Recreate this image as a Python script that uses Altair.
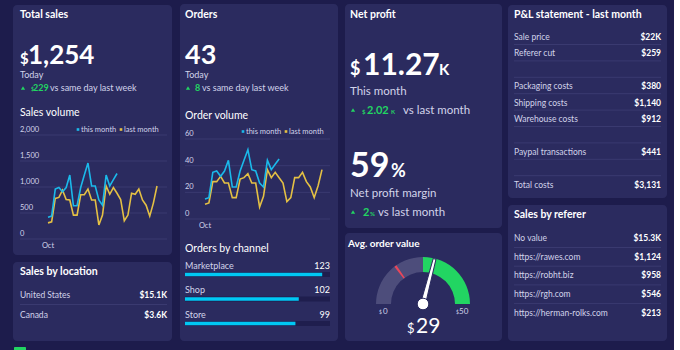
import math
import altair as alt
import pandas as pd

# ---------------- data ----------------
days = list(range(1, 32))
month_label = "Oct"
series_names = ["this month", "last month"]

sales_last_month = [310, 330, 780, 800, 940, 760, 750, 460, 460, 850, 850, 960, 750, 750, 270, 460,
                    1020, 860, 990, 880, 760, 350, 460, 880, 860, 960, 750, 650, 440, 690, 1020]
sales_this_month = [420, 440, 960, 990, 910, 990, 1230, 640, 640, 990, 1230, 1460, 1020, 1020, 750,
                    650, 1230, 1020, 1140, 1260]
sales_ticks = [0, 500, 1000, 1500, 2000]
sales_tick_labels = ["0", "500", "1,000", "1,500", "2,000"]

orders_last_month = [11, 12, 28, 28, 32, 27, 27, 16, 16, 30, 31, 34, 27, 27, 9, 17,
                     37, 31, 35, 31, 27, 13, 16, 31, 31, 35, 28, 24, 16, 25, 37]
orders_this_month = [15, 16, 35, 36, 32, 36, 44, 24, 24, 36, 44, 52, 37, 36, 27, 24, 44, 37, 41, 45]
order_ticks = [0, 20, 40, 60]
order_tick_labels = ["0", "20", "40", "60"]

channels = ["Marketplace", "Shop", "Store"]
channel_orders = [123, 102, 99]

locations = ["United States", "Canada"]
location_sales = ["$15.1K", "$3.6K"]

pl_items = ["Sale price", "Referer cut", "", "Packaging costs", "Shipping costs",
            "Warehouse costs", "", "Paypal transactions", "", "Total costs"]
pl_values = ["$22K", "$259", "", "$380", "$1,140", "$912", "", "$441", "", "$3,131"]

referers = ["No value", "https://rawes.com", "https://robht.biz", "https://rgh.com",
            "https://herman-rolks.com"]
referer_sales = ["$15.3K", "$1,124", "$958", "$546", "$213"]

avg_order_value = 29
gauge_min, gauge_max = 0, 50
gauge_target = 15
gauge_good_from = 25

total_sales_today = "1,254"
total_sales_delta = "229"
orders_today = "43"
orders_delta = "8"
net_profit = "11.27"
net_profit_delta = "2.02"
net_margin = "59"
net_margin_delta = "2"

# ---------------- style ----------------
FONT = "Lato"
BG = "#1d1c4c"
PANEL = "#2b2b5f"
GRID = "#3a3a70"
WHITE = "#ffffff"
LIGHT = "#d2d3ea"
GREEN = "#22d562"
CYAN = "#1bb9ea"
YELLOW = "#e4c044"
BAR = "#00c8f4"
GAUGE_GREY = "#4d4d7b"
RED = "#e8465a"

layers = []


def one():
    return pd.DataFrame({"k": [0]})


def rect(x, y, x2, y2, color, r=4):
    layers.append(alt.Chart(one()).mark_rect(color=color, cornerRadius=r).encode(
        x=alt.value(x), x2=alt.value(x2), y=alt.value(y), y2=alt.value(y2)))


def text(s, x, y, size=9, color=WHITE, weight="normal", align="left"):
    layers.append(alt.Chart(pd.DataFrame({"t": [s]})).mark_text(
        align=align, baseline="alphabetic", font=FONT, fontSize=size,
        fontWeight=weight, color=color).encode(
        x=alt.value(x), y=alt.value(y), text="t:N"))


def tri(x, y):
    layers.append(alt.Chart(one()).mark_point(
        shape="triangle-up", filled=True, color=GREEN, size=18, opacity=1).encode(
        x=alt.value(x), y=alt.value(y)))


def lin(domain, rng):
    return alt.Scale(domain=domain, range=rng, nice=False, zero=False)


# ---------------- panels ----------------
rect(13, 5, 172, 255, PANEL)
rect(13, 262, 172, 341, PANEL)
rect(180, 4, 338, 341, PANEL)
rect(345, 4, 502, 228, PANEL)
rect(345, 233, 502, 341, PANEL)
rect(508, 5, 667, 198, PANEL)
rect(508, 205, 667, 341, PANEL)
rect(674, 0, 680, 350, "#ffffff", 0)
rect(14, 347, 26, 352, GREEN, 1)


# ---------------- line charts ----------------
def line_chart(x0, x1, lx0, lx1, y0, y1, ydom, ticks, tick_labels, last, this, oct_y, leg_x, leg_y):
    xs = lin([1, 31], [lx0, lx1])
    ys = lin(ydom, [y0, y1])
    gdf = pd.DataFrame({"v": ticks, "lab": tick_labels})
    layers.append(alt.Chart(gdf).mark_rule(color=GRID, strokeWidth=1).encode(
        y=alt.Y("v:Q", scale=ys, axis=None), x=alt.value(x0), x2=alt.value(x1)))
    layers.append(alt.Chart(gdf).mark_text(
        align="left", baseline="alphabetic", dy=-3, font=FONT, fontSize=7.5, color=LIGHT).encode(
        y=alt.Y("v:Q", scale=ys, axis=None), x=alt.value(x0), text="lab:N"))
    for series, color in [(last, YELLOW), (this, CYAN)]:
        df = pd.DataFrame({"day": days[:len(series)], "v": series})
        layers.append(alt.Chart(df).mark_line(color=color, strokeWidth=1.6).encode(
            x=alt.X("day:Q", scale=xs, axis=None),
            y=alt.Y("v:Q", scale=ys, axis=None)))
    odf = pd.DataFrame({"day": [days[0]], "t": [month_label]})
    layers.append(alt.Chart(odf).mark_text(
        align="center", baseline="alphabetic", font=FONT, fontSize=7.5, color=LIGHT).encode(
        x=alt.X("day:Q", scale=xs, axis=None), y=alt.value(oct_y), text="t:N"))
    # legend
    for name, color, dx in [(series_names[0], CYAN, 0), (series_names[1], YELLOW, 43)]:
        layers.append(alt.Chart(one()).mark_square(color=color, size=7, opacity=1).encode(
            x=alt.value(leg_x + dx), y=alt.value(leg_y - 2.5)))
        text(name, leg_x + dx + 3, leg_y, 7.5, LIGHT)


line_chart(20, 167, 48, 157, 239, 135, [0, 2000], sales_ticks, sales_tick_labels,
           sales_last_month, sales_this_month, 248, 78, 132)
line_chart(185, 330, 205, 322, 219, 139, [0, 60], order_ticks, order_tick_labels,
           orders_last_month, orders_this_month, 228, 243, 134)

# ---------------- KPI texts ----------------
text("Total sales", 20, 18, 10.5, WHITE, "bold")
text("$", 20, 64, 15, WHITE, "bold")
text(total_sales_today, 28, 64, 26, WHITE, "bold")
text("Today", 20, 78, 9, LIGHT)
tri(23, 88)
text("$", 31, 91, 5, GREEN, "bold")
text(total_sales_delta, 33, 91, 9, GREEN, "bold")
text("vs same day last week", 50, 91, 9, LIGHT)
text("Sales volume", 20, 116, 10.5, WHITE)

text("Orders", 185, 18, 10.5, WHITE, "bold")
text(orders_today, 185, 64, 27, WHITE, "bold")
text("Today", 185, 78, 9, LIGHT)
tri(188, 88)
text(orders_delta, 195, 91, 9, GREEN, "bold")
text("vs same day last week", 202, 91, 9, LIGHT)
text("Order volume", 185, 119, 10.5, WHITE)

text("Net profit", 350, 18, 10.5, WHITE, "bold")
text("$", 350, 75, 18, WHITE, "bold")
text(net_profit, 363, 75, 30, WHITE, "bold")
text("K", 439, 75, 15, WHITE, "bold")
text("This month", 350, 95, 11.5, LIGHT)
tri(353, 110)
text("$", 362, 114, 6, GREEN, "bold")
text(net_profit_delta, 367, 114, 11, GREEN, "bold")
text("K", 391, 114, 6, GREEN, "bold")
text("vs last month", 403, 114, 11.5, LIGHT)
text(net_margin, 350, 177, 34, WHITE, "bold")
text("%", 391, 177, 18, WHITE, "bold")
text("Net profit margin", 350, 197, 11.5, LIGHT)
tri(353, 212)
text(net_margin_delta, 363, 216, 11, GREEN, "bold")
text("%", 370, 216, 6, GREEN, "bold")
text("vs last month", 378, 216, 11.5, LIGHT)

# ---------------- orders by channel ----------------
text("Orders by channel", 185, 252, 10.5, WHITE)
cdf = pd.DataFrame({"ch": channels, "n": channel_orders, "row": list(range(len(channels))),
                    "zero": [0] * len(channels)})
bx = lin([0, 130], [185, 330])
by = lin([0, 2], [274.5, 323.5])
layers.append(alt.Chart(cdf).mark_rule(color="#1f1e4e", strokeWidth=5).encode(
    y=alt.Y("row:Q", scale=by, axis=None), x=alt.value(185), x2=alt.value(330)))
layers.append(alt.Chart(cdf).mark_rule(color=BAR, strokeWidth=3.5).encode(
    y=alt.Y("row:Q", scale=by, axis=None),
    x=alt.X("zero:Q", scale=bx, axis=None), x2="n:Q"))
layers.append(alt.Chart(cdf).mark_text(
    align="left", baseline="alphabetic", dy=-6, font=FONT, fontSize=9, color=LIGHT).encode(
    y=alt.Y("row:Q", scale=by, axis=None), x=alt.value(185), text="ch:N"))
layers.append(alt.Chart(cdf).mark_text(
    align="right", baseline="alphabetic", dy=-6, font=FONT, fontSize=9, color=WHITE).encode(
    y=alt.Y("row:Q", scale=by, axis=None), x=alt.value(330), text="n:Q"))


# ---------------- tables ----------------
def table(items, values, x0, x1, y_first, step, line_off, lines):
    n = len(items)
    df = pd.DataFrame({"item": items, "val": values, "row": list(range(n))})
    ys = lin([0, n - 1], [y_first, y_first + step * (n - 1)])
    ls = lin([0, n - 1], [y_first + line_off, y_first + line_off + step * (n - 1)])
    ldf = df.iloc[:lines]
    layers.append(alt.Chart(ldf).mark_rule(color=GRID, strokeWidth=1).encode(
        y=alt.Y("row:Q", scale=ls, axis=None), x=alt.value(x0), x2=alt.value(x1)))
    layers.append(alt.Chart(df).mark_text(
        align="left", baseline="alphabetic", font=FONT, fontSize=8.5, color=LIGHT).encode(
        y=alt.Y("row:Q", scale=ys, axis=None), x=alt.value(x0), text="item:N"))
    layers.append(alt.Chart(df).mark_text(
        align="right", baseline="alphabetic", font=FONT, fontSize=8.5, color=WHITE,
        fontWeight="bold").encode(
        y=alt.Y("row:Q", scale=ys, axis=None), x=alt.value(x1), text="val:N"))


text("Sales by location", 20, 275, 10.5, WHITE, "bold")
table(locations, location_sales, 20, 167, 298, 20, 6.5, 1)

text("P&L statement - last month", 514, 18, 10.5, WHITE, "bold")
table(pl_items, pl_values, 514, 661, 40, 16.4, 4.5, 9)

text("Sales by referer", 514, 218, 10.5, WHITE, "bold")
table(referers, referer_sales, 514, 661, 241, 18.7, 6.5, 4)

# ---------------- gauge ----------------
text("Avg. order value", 348, 247, 10, WHITE, "bold")
GX, GY = 423, 304
ts = alt.Scale(domain=[gauge_min, gauge_max], range=[-math.pi / 2, math.pi / 2])
gdf = pd.DataFrame({
    "a": [gauge_min, gauge_good_from, gauge_target - 0.4],
    "b": [gauge_good_from, gauge_max, gauge_target + 0.4],
    "part": ["low", "good", "target"],
})
for i, color in enumerate([GAUGE_GREY, GREEN, RED]):
    layers.append(alt.Chart(gdf.iloc[[i]]).mark_arc(
        outerRadius=47, innerRadius=32, color=color).encode(
        theta=alt.Theta("a:Q", scale=ts, stack=None), theta2="b:Q",
        x=alt.value(GX), y=alt.value(GY)))

NEEDLE = "M -0.055 0.03 L 0.055 0.03 L 0.03 -1 L -0.03 -1 Z"
ndf = pd.DataFrame({"v": [avg_order_value]})
layers.append(alt.Chart(ndf).mark_point(
    shape=NEEDLE, filled=True, fill=WHITE, stroke=PANEL, strokeWidth=1, size=8650, opacity=1).encode(
    x=alt.value(GX), y=alt.value(GY),
    angle=alt.Angle("v:Q", scale=alt.Scale(domain=[gauge_min, gauge_max], range=[270, 450]))))
layers.append(alt.Chart(ndf).mark_circle(
    size=135, color=WHITE, opacity=1, stroke=PANEL, strokeWidth=1).encode(
    x=alt.value(GX), y=alt.value(GY)))

text("$", 379, 314, 5, LIGHT)
text(str(gauge_min), 383, 314, 8, LIGHT)
text("$", 456, 314, 5, LIGHT)
text(str(gauge_max), 459, 314, 8, LIGHT)
text("$", 407, 333, 13, WHITE)
text(str(avg_order_value), 416, 333, 21, WHITE)

chart = alt.layer(*layers).resolve_scale(x="independent", y="independent").properties(
    width=680, height=350, padding=0, autosize=alt.AutoSizeParams(type="none")
).configure(background=BG).configure_view(strokeWidth=0)

chart.save("out.html", embed_options={"renderer": "svg", "actions": False})
